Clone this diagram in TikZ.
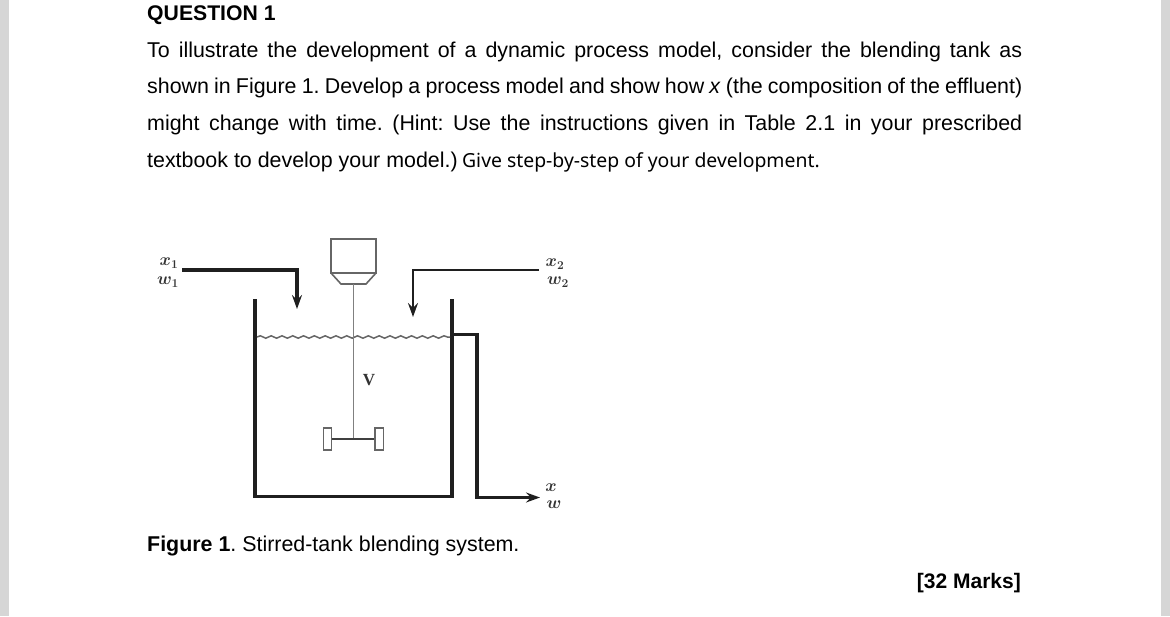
\documentclass[tikz,border=0pt]{standalone}
\usepackage{fontspec}
\setmainfont{Liberation Sans}
\newfontfamily\givefont{Noto Sans}
\newfontfamily\serifmath{Liberation Serif}
\usetikzlibrary{arrows.meta,decorations.pathmorphing}
\definecolor{edgegray}{gray}{0.84}
\definecolor{inkdark}{gray}{0.2}
\tikzset{
  bodytext/.style={anchor=base west,inner sep=0pt,font=\fontsize{21.4}{24}\selectfont},
  streamlabel/.style={inner sep=0pt,font=\fontsize{17}{19}\selectfont\boldmath,text=inkdark},
  pipe/.style={draw=black!88,line width=3.2pt},
  thinpipe/.style={draw=black!88,line width=2.8pt},
  motor/.style={draw=black!60,line width=1.6pt},
  shaft/.style={draw=black!50,line width=1.5pt},
  flowarrow/.style={-{Stealth[length=14pt,width=10pt,inset=5pt]}},
}
\newcommand{\fitline}[1]{\makebox[875pt][s]{#1}}
\frenchspacing
\begin{document}
\begin{tikzpicture}[x=1pt,y=-1pt]
\useasboundingbox (0,0) rectangle (1170,616);
% page edges
\fill[edgegray] (0,0) rectangle (9,616);
\fill[edgegray] (1161,0) rectangle (1170,616);
% question text
\node[bodytext,font=\fontsize{21.2}{24}\selectfont\bfseries] (title) at (147,20) {QUESTION 1};
\node[bodytext] (lineone) at (147,57) {\fitline{To illustrate the development of a dynamic process model, consider the blending tank as}};
\node[bodytext] (linetwo) at (147,93) {\fitline{shown in Figure 1. Develop a process model and show how \textit{x} (the composition of the effluent)}};
\node[bodytext] (linethree) at (147,130) {\fitline{might change with time. (Hint: Use the instructions given in Table 2.1 in your prescribed}};
\node[bodytext] (linefour) at (147,167) {textbook to develop your model.)\hspace{-1.5pt} {\givefont\fontsize{19.4}{24}\selectfont Give step-by-step of your development.}};
% tank
\draw[pipe] (255,299) -- (255,496.5) -- (452,496.5) -- (452,299);
\draw[black!60,line width=1.5pt,decorate,decoration={snake,segment length=10.8pt,amplitude=1.2pt}] (257,337) -- (450,337);
% outlet
\coordinate (outletstart) at (452,334.5);
\coordinate (outletend) at (540,497.5);
\draw[pipe,flowarrow] (outletstart) -- (477,334.5) -- (477,497.5) -- (outletend);
% feed lines
\coordinate (feedonestart) at (182,270);
\coordinate (feedoneend) at (297,309);
\coordinate (feedtwostart) at (539,270);
\coordinate (feedtwoend) at (413,317);
\draw[pipe,flowarrow] (feedonestart) -- (297,270) -- (feedoneend);
\draw[thinpipe,flowarrow] (feedtwostart) -- (413,270) -- (feedtwoend);
% motor and stirrer
\draw[motor] (331,239) rectangle (376,273);
\draw[motor] (331,273) -- (341,284) -- (366,284) -- (376,273);
\draw[shaft] (353.6,284) -- (353.6,439);
\draw[motor,line width=1.2pt,draw=black!75] (331,439) -- (375,439);
\draw[motor,line width=1.4pt] (323.5,428) rectangle (331.5,450);
\draw[motor,line width=1.4pt] (375,428) rectangle (383.5,450);
% labels
\node[streamlabel] (xone) at (169,263) {$x_1$};
\node[streamlabel] (wone) at (168,282) {$w_1$};
\node[streamlabel] (xtwo) at (555,264) {$x_2$};
\node[streamlabel] (wtwo) at (558,282) {$w_2$};
\node[streamlabel,font=\serifmath\bfseries\fontsize{17}{19}\selectfont] (vol) at (369,380) {V};
\node[streamlabel] (xout) at (551,488) {$x$};
\node[streamlabel] (wout) at (554,505) {$w$};
% caption and marks
\node[bodytext] (caption) at (147,551) {\textbf{Figure 1}. Stirred-tank blending system.};
\node[bodytext,anchor=base east,font=\fontsize{21}{24}\selectfont\bfseries] (marks) at (1021,588) {[32 Marks]};
\end{tikzpicture}
\end{document}
